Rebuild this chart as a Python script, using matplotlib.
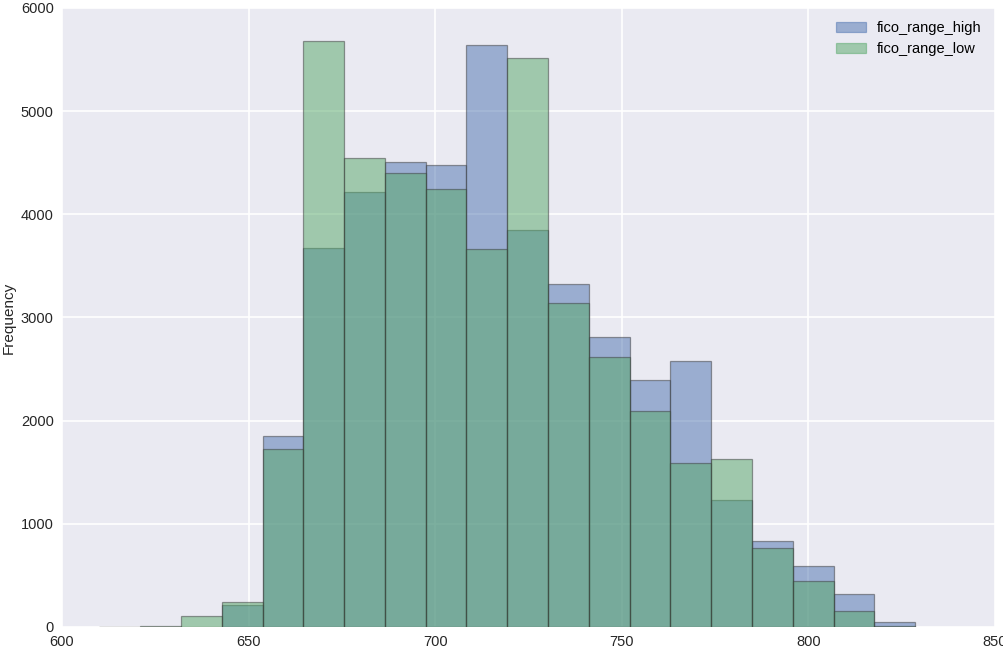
import numpy as np
import matplotlib
matplotlib.use("Agg")
import matplotlib.pyplot as plt

# histogram bin edges shared by both series (20 bins)
bin_lo, bin_hi, n_bins = 610.0, 828.6, 20

# counts, per bin
fico_range_high = [3, 0, 0, 215, 1850, 3670, 4220, 4505, 4475, 5640,
                   3845, 3322, 2810, 2392, 2578, 1230, 832, 591, 320, 48]
fico_range_low = [3, 10, 108, 245, 1722, 5680, 4545, 4400, 4242, 3662,
                  5514, 3140, 2616, 2092, 1590, 1628, 765, 447, 156, 12]

series = ["fico_range_high", "fico_range_low"]
colors = ["#4C72B0", "#55A868"]

plt.rcParams["font.family"] = ["Liberation Sans", "DejaVu Sans"]

edges = np.linspace(bin_lo, bin_hi, n_bins + 1)
centers = (edges[:-1] + edges[1:]) / 2

fig = plt.figure(figsize=(10.04, 6.49), dpi=100)
ax = fig.add_axes([0.0618, 0.0339, 0.9292, 0.9538])
ax.set_facecolor("#EAEAF2")
ax.set_axisbelow(True)
ax.grid(True, color="white", linewidth=1.2)
for s in ax.spines.values():
    s.set_visible(False)

for name, vals, col in zip(series, [fico_range_high, fico_range_low], colors):
    ax.hist(centers, bins=edges, weights=vals, color=col, alpha=0.5,
            edgecolor="#3a3a3a", linewidth=0.9, label=name)

ax.set_xlim(600, 850)
ax.set_ylim(0, 6000)
ax.set_xticks([600, 650, 700, 750, 800, 850])
ax.set_yticks(range(0, 6001, 1000))
ax.tick_params(length=0, labelsize=10.5, colors="#262626", pad=6)
ax.set_ylabel("Frequency", fontsize=11, color="#262626")
leg = ax.legend(loc="upper right", frameon=False, fontsize=10.5)
for h, col in zip(leg.legend_handles, colors):
    h.set_edgecolor(col)

fig.savefig("out.png", dpi=100)
